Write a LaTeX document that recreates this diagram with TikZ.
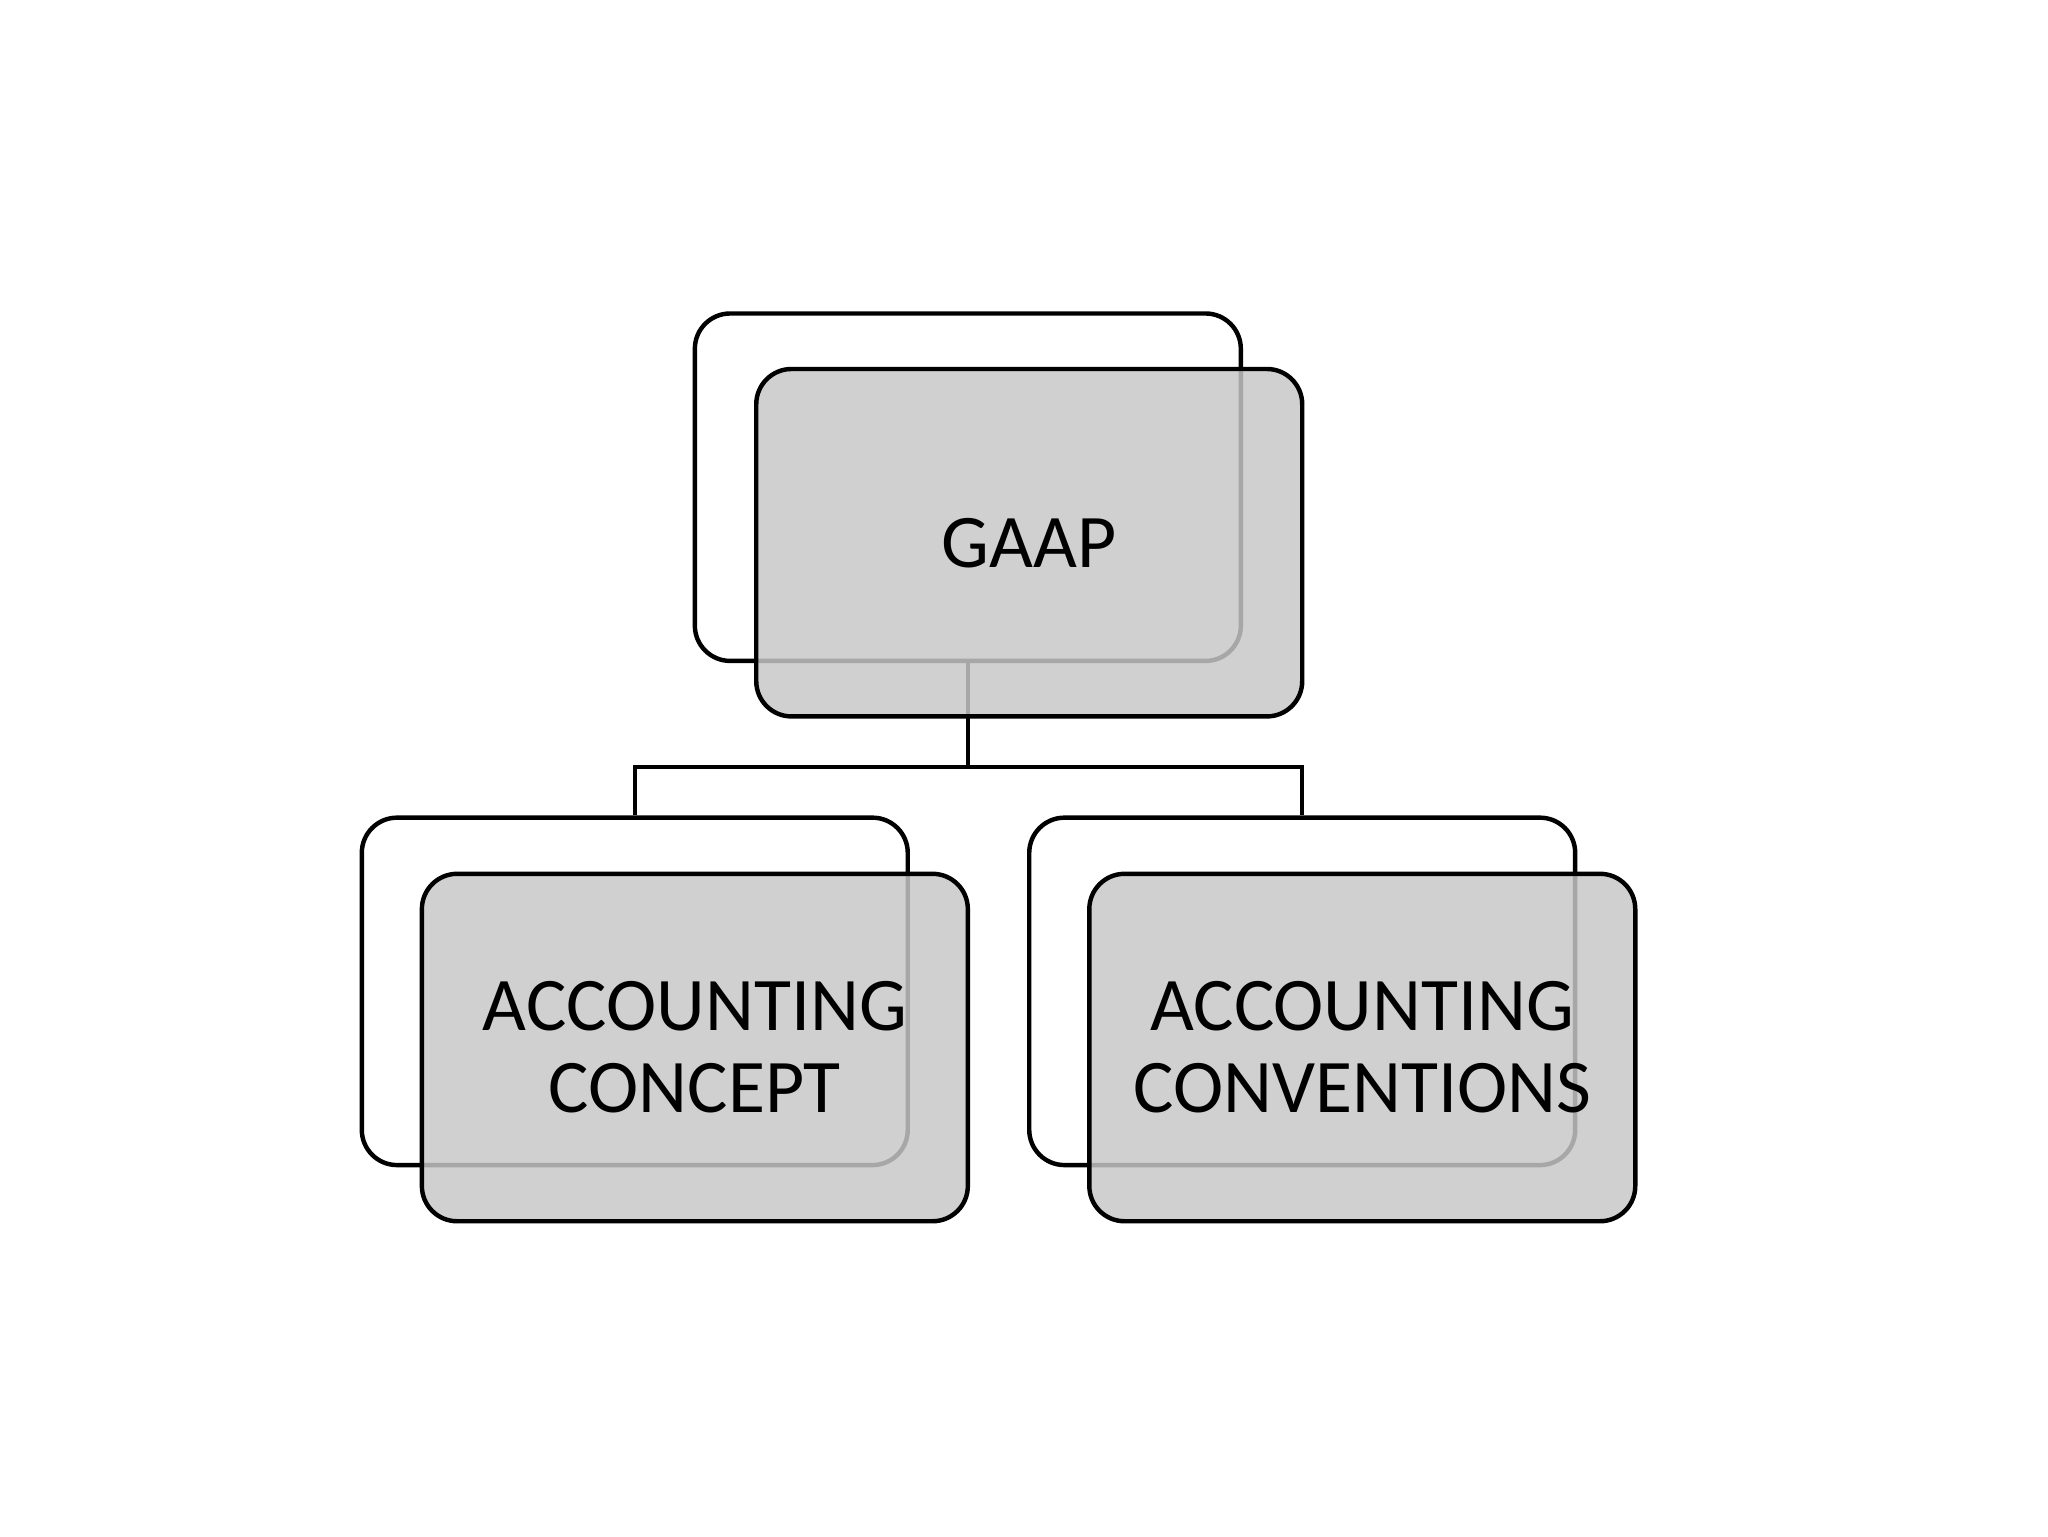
\documentclass[tikz,border=0pt]{standalone}
\usepackage{fontspec}
\setmainfont{Carlito}
\begin{document}
\begin{tikzpicture}[x=1pt,y=-1pt,
  backbox/.style={draw=black,line width=3.4pt,rounded corners=27pt,minimum width=418pt,minimum height=266pt,inner sep=0pt,fill=white},
  frontbox/.style={draw=black,line width=3.4pt,rounded corners=27pt,minimum width=418pt,minimum height=266pt,inner sep=0pt,fill={rgb,255:red,199;green,199;blue,199},fill opacity=0.84,text opacity=1,align=center,font=\fontsize{58}{63}\selectfont},
  link/.style={draw=black,line width=3.2pt}]
\useasboundingbox (0,0) rectangle (1568,1176);
\fill[white] (0,0) rectangle (1568,1176);
\node[backbox] (gb) at (741,373) {};
\node[backbox] (lb) at (486,759) {};
\node[backbox] (rb) at (997,759) {};
\coordinate (j) at (741,587);
\draw[link] (gb.south) -- (j);
\draw[link] (j) -| (lb.north);
\draw[link] (j) -| (rb.north);
\node[frontbox] (gf) at (788,415.5) {GAAP};
\node[frontbox] (lf) at (532,802) {ACCOUNTING\\CONCEPT};
\node[frontbox] (rf) at (1043,802) {ACCOUNTING\\CONVENTIONS};
\end{tikzpicture}
\end{document}
